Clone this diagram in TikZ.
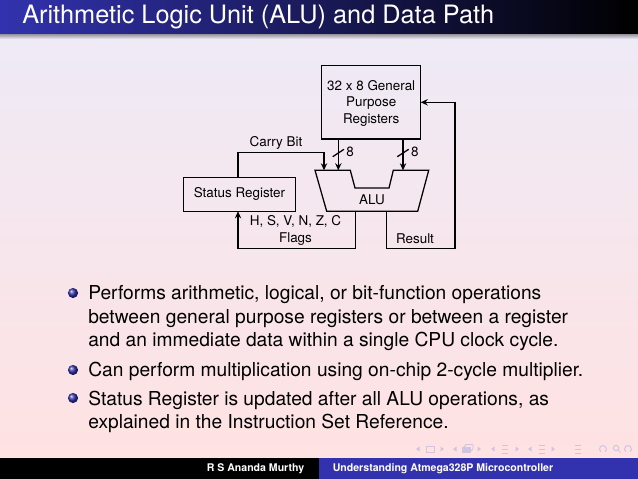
\documentclass[tikz,border=0pt]{standalone}
\usepackage{fontspec}
\setmainfont{TeX Gyre Heros}
\usetikzlibrary{arrows.meta}
\definecolor{slideblue}{RGB}{50,50,175}
\definecolor{slidetop}{RGB}{238,234,246}
\definecolor{slidebot}{RGB}{255,226,226}
\definecolor{navgray}{RGB}{208,196,226}
\tikzset{
  regbox/.style={draw=black, line width=0.9pt, inner sep=0pt, align=center, font=\fontsize{9.55}{11.8}\selectfont},
  flow/.style={line width=0.9pt, -{Stealth[length=5pt,width=4.5pt]}},
  wire/.style={line width=0.9pt},
  lbl/.style={inner sep=0pt, align=center, font=\fontsize{9.55}{11.8}\selectfont},
  bodyline/.style={anchor=base west, inner sep=0pt, font=\fontsize{13.66}{16}\selectfont},
  bulletball/.style={circle, minimum size=7.2pt, inner sep=0pt, shade, ball color=slideblue},
  nav/.style={line width=0.7pt, draw=navgray},
  navtip/.style={fill=navgray, draw=none}
}

\begin{document}
\begin{tikzpicture}[x=0.025cm, y=-0.025cm]
	\useasboundingbox (0, 0) rectangle (638, 479);
	%%%%% BACKGROUND %%%%%
	\shade[top color=slidetop, bottom color=slidebot] (0, 33) rectangle (638, 458);
	\shade[top color=black!45!slidetop, bottom color=slidetop] (0, 33) rectangle (638, 39);
	\shade[left color=slideblue, right color=black] (0, 0) rectangle (638, 34);
	\node[anchor=base west, inner sep=0pt, text=white, font=\fontsize{18}{20}\selectfont] (title) at (22, 24) {Arithmetic Logic Unit (ALU) and Data Path};

	%%%%% DATA PATH %%%%%
	\node[regbox, minimum width=2.475cm, minimum height=1.83cm] (regs) at (371.2, 102.4) {\strut\vspace{-1pt}32 x 8 General\\Purpose\\Registers};
	\node[regbox, minimum width=2.81cm, minimum height=0.85cm] (status) at (239.5, 194.3) {Status Register};

	\draw[wire] (315, 170.3) -- (350.3, 170.3) -- (355, 188) -- (389, 188) -- (393.3, 170.3) -- (428.7, 170.3) -- (417.7, 211.3) -- (326.7, 211.3) -- cycle;
	\node[lbl] (alu) at (372, 200) {ALU};

	\coordinate (carryin) at (324, 170.3);
	\coordinate (opa) at (338.3, 170.3);
	\coordinate (opb) at (403, 170.3);
	\coordinate (flagsout) at (355.3, 211.3);
	\coordinate (resultout) at (386.7, 211.3);
	\coordinate (statustop) at (238, 177.3);
	\coordinate (statusbot) at (238, 211.3);
	\coordinate (carrycorner) at (238, 152.7);
	\coordinate (flagscorner) at (355.3, 248.7);
	\coordinate (resultcorner) at (386.7, 248.7);
	\coordinate (resultfar) at (455, 248.7);
	\coordinate (regsin) at (420.7, 102.3);

	\draw[flow] (regs.south -| opa) -- (opa);
	\draw[flow] (regs.south -| opb) -- (opb);
	\draw[flow] (statustop) -- (carrycorner) -| (carryin);
	\draw[flow] (flagsout) -- (flagscorner) -| (statusbot);
	\draw[flow] (resultout) -- (resultcorner) -- (resultfar) |- (regsin);

	\draw[wire] (332.7, 156.7) -- (344, 149.3);
	\draw[wire] (397.3, 156.7) -- (408.7, 149.3);
	\node[lbl] (widtha) at (350, 152) {8};
	\node[lbl] (widthb) at (414.8, 152) {8};

	\node[lbl] (carrybit) at (276, 142.5) {Carry Bit};
	\node[lbl] (flags) at (295.5, 230.5) {H, S, V, N, Z, C\\Flags};
	\node[lbl] (result) at (415, 239) {Result};

	%%%%% BULLETS %%%%%
	\node[bulletball] (balla) at (73, 293) {};
	\node[bulletball] (ballb) at (73, 370) {};
	\node[bulletball] (ballc) at (73, 398) {};
	\node[bodyline] (linea) at (88, 299.5) {Performs arithmetic, logical, or bit-function operations};
	\node[bodyline] (lineb) at (88, 323) {between general purpose registers or between a register};
	\node[bodyline] (linec) at (88, 346.5) {and an immediate data within a single CPU clock cycle.};
	\node[bodyline] (lined) at (88, 376) {Can perform multiplication using on-chip 2-cycle multiplier.};
	\node[bodyline] (linee) at (88, 405) {Status Register is updated after all ALU operations, as};
	\node[bodyline] (linef) at (88, 428.5) {explained in the Instruction Set Reference.};

	%%%%% FOOTER %%%%%
	\fill[black] (0, 458) rectangle (319, 479);
	\fill[slideblue] (319, 458) rectangle (638, 479);
	\node[inner sep=0pt, text=white, font=\fontsize{7.5}{9}\bfseries\selectfont] (author) at (255.5, 469) {R S Ananda Murthy};
	\node[inner sep=0pt, text=white, font=\fontsize{7.5}{9}\bfseries\selectfont] (talk) at (443, 469) {Understanding Atmega328P Microcontroller};

	%%%%% NAV %%%%%
	\foreach \tipx in {418, 455, 493, 530}
		\fill[navtip] (\tipx-2, 449) -- (\tipx+1.5, 446.5) -- (\tipx+1.5, 451.5) -- cycle;
	\foreach \tipx in {442, 479, 517, 553}
		\fill[navtip] (\tipx+2, 449) -- (\tipx-1.5, 446.5) -- (\tipx-1.5, 451.5) -- cycle;
	\draw[nav] (426, 446) rectangle (434, 452);
	\draw[nav, fill=navgray] (462, 452) rectangle (470, 447);
	\draw[nav] (464, 447) -- (466, 444.5) -- (473, 444.5) -- (473, 449) -- (470, 452);
	\foreach \linex in {505, 542, 578} {
		\draw[nav] (\linex-3, 445) -- (\linex+3, 445);
		\draw[nav] (\linex-3, 449) -- (\linex+3, 449);
		\draw[nav] (\linex-3, 453) -- (\linex+3, 453);
	}
	\draw[nav] (600.75, 451.7) arc (130:410:3.5);
	\draw[nav] (616, 448) circle (2.7);
	\draw[nav] (618.2, 450) -- (620.5, 452.5);
	\draw[nav] (625.75, 451.7) arc (130:410:3.5);
\end{tikzpicture}
\end{document}
